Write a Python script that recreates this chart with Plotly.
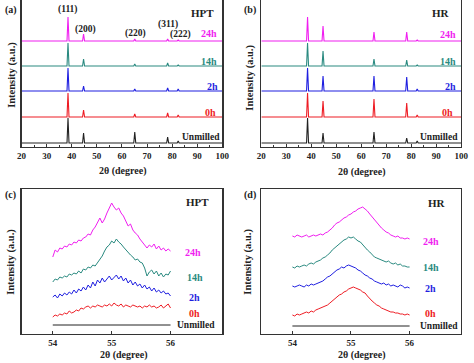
import plotly.graph_objects as go

W, H = 474, 363

# ---------------- data (arbitrary intensity units incl. offsets) -------------
SAMPLES = ["Unmilled", "0h", "2h", "14h", "24h"]
COLORS = {"Unmilled": "#222222", "0h": "#ee1c24", "2h": "#1f1fe0", "14h": "#2a8a80", "24h": "#f01ef0"}

# full patterns (20-100 deg)
X_FULL = [20, 38.1, 38.5, 38.9, 44.3, 44.7, 45.1, 64.7, 65.1, 65.5, 77.8, 78.2, 78.6, 82.0, 82.4, 82.8, 100]
HPT_FULL = {
    "Unmilled": [4, 4, 29, 4, 4, 14, 4, 4, 15, 4, 4, 10, 4, 4, 6, 4, 4],
    "0h":       [30, 30, 54, 30, 30, 37, 30, 30, 33, 30, 30, 34, 30, 30, 32, 30, 30],
    "2h":       [56, 56, 79, 56, 56, 61, 56, 56, 58, 56, 56, 59, 56, 56, 58, 56, 56],
    "14h":      [81, 81, 104, 81, 81, 88, 81, 81, 83, 81, 81, 84, 81, 81, 82, 81, 81],
    "24h":      [106, 106, 130, 106, 106, 113, 106, 106, 108, 106, 106, 108, 106, 106, 107, 106, 106],
}
HR_FULL = {
    "Unmilled": [4, 4, 29, 4, 4, 14, 4, 4, 15, 4, 4, 9, 4, 4, 6, 4, 4],
    "0h":       [30, 30, 54, 30, 30, 46, 30, 30, 48, 30, 30, 44, 30, 30, 32, 30, 30],
    "2h":       [56, 56, 79, 56, 56, 71, 56, 56, 71, 56, 56, 70, 56, 56, 58, 56, 56],
    "14h":      [81, 81, 104, 81, 81, 96, 81, 81, 88, 81, 81, 87, 81, 81, 82, 81, 81],
    "24h":      [106, 106, 130, 106, 106, 121, 106, 106, 115, 106, 106, 115, 106, 106, 107, 106, 106],
}
PEAK_LABELS = ["(111)", "(200)", "(220)", "(311)", "(222)"]

# zoomed region 54-56 deg
X_ZOOM = [54.00, 54.04, 54.08, 54.12, 54.16, 54.20, 54.24, 54.28, 54.32, 54.36,
          54.40, 54.44, 54.48, 54.52, 54.56, 54.60, 54.64, 54.68, 54.72, 54.76,
          54.80, 54.84, 54.88, 54.92, 54.96, 55.00, 55.04, 55.08, 55.12, 55.16,
          55.20, 55.24, 55.28, 55.32, 55.36, 55.40, 55.44, 55.48, 55.52, 55.56,
          55.60, 55.64, 55.68, 55.72, 55.76, 55.80, 55.84, 55.88, 55.92, 55.96, 56.00]
X_UNMILLED = [54, 56]
HPT_ZOOM = {
    "Unmilled": [9, 9],
    "0h": [17, 19, 18, 20, 19, 21, 20, 23, 21, 22, 24, 23, 26, 25, 27, 28, 26, 28, 27, 29,
           28, 27, 29, 28, 30, 28, 31, 29, 28, 30, 27, 29, 28, 27, 29, 28, 27, 28, 26, 28,
           27, 29, 27, 28, 26, 27, 29, 26, 28, 30, 26],
    "2h": [37, 39, 36, 40, 38, 41, 39, 42, 40, 44, 41, 45, 43, 47, 44, 49, 46, 52, 48, 54,
           51, 56, 52, 55, 58, 54, 57, 59, 55, 58, 53, 56, 51, 54, 49, 52, 48, 50, 46, 49,
           45, 47, 43, 46, 42, 44, 41, 43, 40, 41, 38],
    "14h": [52, 55, 54, 57, 56, 58, 57, 60, 59, 61, 60, 63, 61, 65, 64, 67, 66, 69, 68, 71,
            74, 78, 83, 87, 89, 93, 91, 95, 92, 90, 87, 84, 82, 79, 77, 74, 75, 72, 71, 66,
            58, 62, 64, 60, 63, 58, 61, 57, 60, 59, 63],
    "24h": [77, 84, 82, 86, 85, 88, 87, 90, 89, 92, 91, 94, 93, 96, 97, 100, 99, 104, 107, 112,
            116, 111, 115, 121, 126, 131, 127, 124, 126, 121, 118, 113, 108, 110, 104, 101, 99, 95, 92, 89,
            86, 89, 87, 90, 85, 88, 84, 86, 83, 85, 83],
}
HR_ZOOM = {
    "Unmilled": [8, 8],
    "0h": [19, 18, 20, 19, 20, 21, 22, 21, 23, 22, 24, 25, 26, 27, 28, 29, 31, 33, 35, 37,
           39, 40, 42, 43, 45, 46, 47, 46, 45, 44, 42, 41, 38, 35, 33, 31, 29, 28, 26, 25,
           24, 23, 22, 22, 21, 21, 20, 20, 19, 20, 19],
    "2h": [48, 47, 48, 49, 48, 47, 49, 48, 50, 49, 50, 51, 52, 53, 55, 57, 58, 60, 62, 64,
           65, 67, 66, 68, 69, 68, 67, 66, 64, 63, 61, 59, 58, 56, 55, 53, 52, 51, 50, 51,
           49, 50, 48, 49, 48, 47, 49, 48, 46, 47, 46],
    "14h": [67, 66, 68, 67, 68, 69, 68, 70, 71, 70, 72, 73, 74, 76, 77, 79, 81, 84, 86, 88,
            90, 92, 94, 95, 97, 96, 97, 95, 93, 92, 89, 87, 84, 82, 79, 77, 76, 75, 74, 73,
            72, 73, 71, 70, 71, 69, 70, 68, 68, 67, 67],
    "24h": [98, 97, 99, 98, 97, 98, 99, 97, 98, 99, 98, 99, 100, 99, 101, 102, 104, 106, 109, 111,
            112, 114, 116, 117, 119, 120, 122, 123, 125, 126, 127, 125, 123, 120, 117, 114, 111, 108, 106, 104,
            102, 101, 99, 98, 97, 98, 96, 96, 95, 96, 95],
}

# ---------------- figure ----------------
FONT = "Liberation Serif"
AX = "#333333"

def px(xp):
    return xp / W

def py(yp):
    return 1 - yp / H

fig = go.Figure()

panels = [
    ("x", "y", X_FULL, HPT_FULL, None),
    ("x2", "y2", X_FULL, HR_FULL, None),
    ("x3", "y3", X_ZOOM, HPT_ZOOM, X_UNMILLED),
    ("x4", "y4", X_ZOOM, HR_ZOOM, X_UNMILLED),
]
for xa, ya, xs, dd, xu in panels:
    for s in SAMPLES:
        xx = xu if (xu is not None and s == "Unmilled") else xs
        fig.add_trace(go.Scatter(x=xx, y=dd[s], mode="lines", xaxis=xa, yaxis=ya,
                                 line=dict(color=COLORS[s], width=1.1 if xu is None else 1.0),
                                 showlegend=False, hoverinfo="skip"))

tickfont = dict(family=FONT, size=9, color="#222", weight=700)
top_y = [1 - 147 / H, 1.0]
bot_y = [1 - 334 / H, 1 - 189 / H]
xa_dom = [17 / W, 223 / W]
xb_dom = [263 / W, 468 / W]

def xfull(dom, anchor):
    return dict(domain=dom, anchor=anchor, range=[20, 100], tickvals=[20, 30, 40, 50, 60, 70, 80, 90, 100],
                ticks="inside", ticklen=3, tickcolor=AX, tickwidth=1, showline=True, linecolor=AX,
                linewidth=1.3, mirror=False, showgrid=False, zeroline=False, tickfont=tickfont,
                minor=dict(dtick=5, ticks="inside", ticklen=2, tickcolor=AX))

def xzoom(dom, anchor):
    return dict(domain=dom, anchor=anchor, range=[53.47, 56.88], tickvals=[54, 55, 56],
                ticks="inside", ticklen=3, tickcolor=AX, tickwidth=1, showline=True, linecolor=AX,
                linewidth=1.3, mirror=True, showgrid=False, zeroline=False, tickfont=tickfont)

def yax(dom, anchor, rng):
    return dict(domain=dom, anchor=anchor, range=rng, showticklabels=False, ticks="",
                showline=True, linecolor=AX, linewidth=1.3, mirror=True, showgrid=False, zeroline=False)

fig.update_layout(
    width=W, height=H, margin=dict(l=0, r=0, t=0, b=0),
    paper_bgcolor="white", plot_bgcolor="white",
    xaxis=xfull(xa_dom, "y"), yaxis=yax(top_y, "x", [0, 147]),
    xaxis2=xfull(xb_dom, "y2"), yaxis2=yax(top_y, "x2", [0, 147]),
    xaxis3=xzoom(xa_dom, "y3"), yaxis3=yax(bot_y, "x3", [0, 145]),
    xaxis4=xzoom(xb_dom, "y4"), yaxis4=yax(bot_y, "x4", [0, 145]),
)

ann = []

def txt(x, y, s, size=10, color="#222", angle=0):
    ann.append(dict(x=px(x), y=py(y), xref="paper", yref="paper", text=s, showarrow=False,
                    font=dict(family=FONT, size=size, color=color, weight=700), textangle=angle,
                    xanchor="center", yanchor="middle"))

# panel letters and titles
for lx, ly, s in [(6, 10, "(a)"), (251, 10, "(b)"), (6, 195, "(c)"), (251, 195, "(d)")]:
    txt(lx, ly, s, 10)
txt(203, 13, "HPT", 11)
txt(447, 13, "HR", 11)
txt(198, 202, "HPT", 11)
txt(443, 203, "HR", 11)

# axis titles
for cx, cy in [(121, 171), (366, 172), (122, 355), (366, 355)]:
    txt(cx, cy, "2θ (degree)", 10)
for cx, cy in [(7, 75), (251, 78), (6, 262), (249, 262)]:
    txt(cx, cy, "Intensity (a.u.)", 10.5, angle=-90)

# peak indices
for (cx, cy), s in zip([(65, 9), (83, 29), (134, 33), (167, 24), (180, 34)], PEAK_LABELS):
    txt(cx, cy, s, 9.5)

# sample labels
labpos = {
    "a": [(201, 137), (211, 112), (213, 87), (209, 61), (209, 33)],
    "b": [(445, 137), (454, 112), (457, 87), (454, 61), (454, 34)],
    "c": [(196, 325), (194, 313), (194, 297), (195, 277), (193, 252)],
    "d": [(445, 326), (437, 313), (437, 288), (437, 267), (437, 241)],
}
for k, pos in labpos.items():
    for (cx, cy), s in zip(pos, SAMPLES):
        txt(cx, cy, s, 9.5 if s == "Unmilled" else 10, COLORS[s])

fig.update_layout(annotations=ann)
fig.write_html("out.html", config={"displayModeBar": False, "staticPlot": True},
               post_script="document.body.style.margin='0px';document.body.style.overflow='hidden';")
